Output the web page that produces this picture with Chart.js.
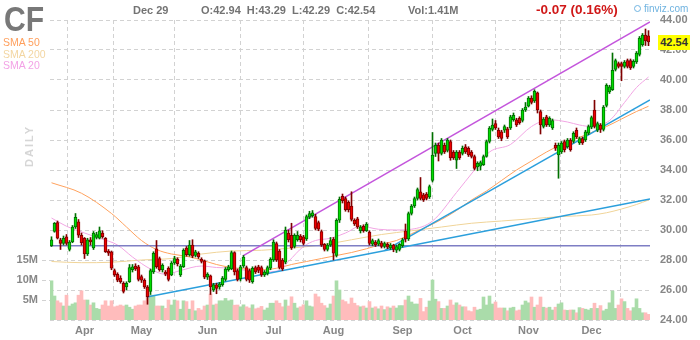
<!DOCTYPE html>
<html>
<head>
<meta charset="utf-8">
<script src="https://cdn.jsdelivr.net/npm/chart.js@4.4.1/dist/chart.umd.min.js"></script>
<style>
  body { margin: 0; background: #fff; }
  #wrap { position: relative; width: 700px; height: 340px; font-family: 'Liberation Sans', Arial, sans-serif; overflow: hidden; }
  #wrap canvas { position: absolute; left: 0; top: 0; }
  .t { position: absolute; white-space: pre; }
  .hdr { font-size: 11px; font-weight: bold; line-height: 12px; color: #737373; top: 4px; }
  .sma { font-size: 10.5px; line-height: 11px; left: 3px; }
</style>
</head>
<body>
<div id="wrap">
  <canvas id="chart" width="700" height="340"></canvas>
  <div class="t" style="left:4px; top:1px; font-size:35px; line-height:35px; font-weight:bold; color:#787878; transform:scaleX(0.86); transform-origin:left top;">CF</div>
  <div class="t sma" style="top:37px; color:#ff9f5c;">SMA 50</div>
  <div class="t sma" style="top:48.5px; color:#f3d6a2;">SMA 200</div>
  <div class="t sma" style="top:60px; color:#f3a2e6;">SMA 20</div>
  <div class="t" style="left:9px; top:141px; width:40px; text-align:center; font-size:11px; line-height:12px; font-weight:bold; letter-spacing:2px; color:#d6d6d6; transform:rotate(-90deg);">DAILY</div>
  <div class="t hdr" style="left:133px;">Dec 29</div>
  <div class="t hdr" style="left:201px;">O:42.94  H:43.29  L:42.29  C:42.54</div>
  <div class="t hdr" style="left:408px;">Vol:1.41M</div>
  <div class="t" style="left:536px; top:2.5px; font-size:13.5px; line-height:14px; font-weight:bold; color:#d01818;">-0.07 (0.16%)</div>
  <div class="t" style="left:634px; top:3px; font-size:10px; line-height:12px; color:#6fb3e0;"><span style="display:inline-block; width:5px; height:5px; border:1px solid #6fb3e0; border-radius:50%; margin-right:3px; vertical-align:0px;"></span>finviz.com</div>
  <div class="t" style="left:658px; top:35px; width:32px; height:15px; background:#ffff00; font-size:11px; line-height:15px; font-weight:bold; color:#333; text-align:center;">42.54</div>
</div>
<script>
// daily candles, 17 Mar .. 29 Dec (200 sessions)
const opens = [
  28.95, 29.90, 30.50, 29.35, 29.10, 29.55, 28.70, 29.20, 30.20, 30.55,
  29.65, 29.45, 28.40, 29.35, 28.80, 29.50, 29.45, 29.80, 29.45, 28.60,
  28.55, 27.30, 27.05, 26.80, 26.45, 26.20, 26.55, 27.35, 27.60, 27.55,
  26.90, 26.65, 26.20, 25.90, 27.20, 28.75, 28.10, 27.35, 27.20, 27.45,
  27.00, 27.80, 28.05, 27.00, 27.55, 28.80, 28.35, 29.00, 28.30, 28.45,
  28.05, 27.95, 26.85, 26.95, 26.00, 26.35, 26.20, 26.35, 26.70, 27.35,
  27.40, 28.50, 27.30, 26.75, 27.60, 27.50, 27.30, 26.55, 27.50, 27.55,
  27.50, 27.00, 27.10, 27.45, 28.00, 29.10, 28.60, 28.00, 27.85, 29.80,
  29.65, 28.90, 29.35, 29.60, 29.55, 29.40, 30.85, 30.95, 30.90, 30.50,
  29.90, 29.05, 28.70, 29.00, 29.40, 28.30, 30.65, 32.25, 32.10, 31.85,
  31.60, 30.65, 30.75, 29.95, 30.25, 29.95, 29.85, 29.05, 29.20, 29.05,
  29.15, 28.90, 29.05, 28.80, 29.00, 28.65, 28.70, 28.95, 29.95, 29.40,
  31.10, 31.60, 32.10, 32.55, 32.35, 32.40, 32.20, 33.30, 35.10, 35.65,
  35.10, 35.65, 35.30, 35.90, 35.20, 34.65, 35.20, 35.10, 35.55, 35.45,
  35.20, 34.90, 34.20, 34.25, 34.35, 34.90, 35.90, 36.70, 37.10, 36.65,
  36.55, 36.65, 36.75, 36.80, 37.35, 37.35, 37.45, 37.30, 38.00, 38.25,
  38.80, 38.60, 39.15, 37.90, 36.90, 37.55, 37.00, 36.80, 35.65, 35.00,
  35.20, 35.90, 35.55, 36.00, 35.90, 36.65, 35.80, 36.10, 36.00, 36.45,
  36.85, 38.00, 36.65, 37.00, 36.70, 38.30, 39.20, 39.35, 40.70, 41.10,
  41.10, 40.90, 41.30, 41.30, 40.90, 41.20, 41.70, 42.35, 43.00, 42.94
];
const highs = [
  29.55, 30.50, 30.60, 29.45, 29.60, 29.70, 29.30, 30.30, 31.10, 30.70,
  29.80, 29.50, 29.45, 29.50, 29.90, 29.85, 30.20, 29.95, 29.50, 28.70,
  28.60, 27.40, 27.15, 26.95, 26.55, 26.55, 27.70, 27.70, 27.75, 27.65,
  27.00, 26.75, 26.30, 27.40, 28.55, 29.30, 28.20, 27.75, 27.30, 27.55,
  27.90, 28.25, 28.15, 27.70, 28.75, 28.90, 29.30, 29.35, 28.65, 28.55,
  28.15, 28.00, 27.15, 27.00, 26.45, 26.45, 26.50, 26.90, 27.50, 27.65,
  28.60, 28.55, 27.40, 27.65, 28.30, 27.60, 27.40, 27.55, 27.60, 27.65,
  27.60, 27.30, 27.60, 28.15, 29.35, 29.20, 28.70, 28.10, 30.20, 30.00,
  30.45, 29.75, 29.90, 29.70, 29.65, 31.00, 31.25, 31.30, 31.05, 30.60,
  30.00, 29.10, 29.10, 29.50, 29.50, 30.75, 32.20, 32.40, 32.20, 31.95,
  32.55, 30.75, 30.85, 30.30, 30.35, 30.50, 29.95, 29.40, 29.30, 29.40,
  29.25, 29.20, 29.15, 29.10, 29.05, 29.00, 29.10, 29.45, 30.40, 31.20,
  31.70, 32.20, 32.80, 33.50, 32.45, 32.50, 33.00, 36.50, 35.80, 35.80,
  36.10, 35.80, 36.10, 36.00, 35.30, 35.30, 35.30, 35.60, 35.70, 35.55,
  35.30, 35.00, 34.55, 34.60, 35.00, 36.00, 36.90, 37.40, 37.30, 36.80,
  36.65, 37.00, 36.85, 37.65, 37.80, 37.45, 37.55, 38.10, 38.50, 38.90,
  38.95, 39.35, 39.20, 38.00, 37.50, 37.65, 37.55, 37.40, 35.80, 35.80,
  35.90, 36.00, 36.10, 36.10, 36.55, 36.80, 36.20, 36.20, 36.65, 37.00,
  37.60, 38.65, 37.20, 37.10, 38.30, 39.75, 39.65, 41.80, 41.40, 41.20,
  41.20, 41.30, 41.40, 41.40, 41.35, 41.90, 42.90, 43.10, 43.40, 43.29
];
const lows = [
  28.90, 29.85, 29.40, 28.70, 29.00, 29.00, 28.60, 29.15, 30.10, 29.50,
  29.00, 28.10, 28.30, 29.00, 28.70, 29.40, 29.40, 29.45, 28.50, 28.30,
  27.35, 26.90, 26.55, 26.45, 25.80, 26.00, 26.50, 27.20, 27.30, 26.60,
  26.50, 26.10, 25.05, 25.70, 27.10, 27.45, 27.25, 27.20, 26.95, 26.60,
  26.95, 27.70, 27.60, 26.90, 27.50, 28.25, 28.25, 28.15, 28.20, 28.10,
  27.80, 26.75, 26.70, 25.70, 25.90, 25.75, 26.05, 26.25, 26.60, 27.25,
  27.35, 27.00, 26.60, 26.60, 27.50, 26.60, 26.50, 26.45, 27.10, 27.15,
  26.90, 26.90, 27.00, 27.35, 27.90, 27.90, 27.40, 27.30, 27.75, 29.20,
  28.70, 28.80, 29.25, 29.20, 29.00, 29.30, 30.75, 30.85, 30.00, 29.95,
  28.90, 28.60, 28.60, 28.90, 28.00, 28.20, 30.50, 31.80, 31.25, 31.20,
  30.60, 30.30, 30.10, 29.80, 29.85, 29.90, 29.00, 28.95, 28.90, 28.95,
  28.80, 28.80, 28.75, 28.70, 28.55, 28.50, 28.60, 28.85, 29.20, 29.30,
  31.00, 31.50, 32.00, 32.00, 31.90, 32.00, 32.10, 33.20, 34.90, 34.60,
  35.00, 35.10, 35.20, 34.65, 34.70, 34.10, 34.70, 35.00, 35.10, 34.90,
  34.80, 34.00, 33.95, 34.00, 34.30, 34.85, 35.80, 36.60, 36.70, 36.10,
  35.95, 36.50, 36.10, 36.70, 37.25, 36.90, 37.05, 37.20, 37.90, 38.20,
  38.40, 38.50, 37.80, 36.40, 36.80, 36.90, 36.90, 36.70, 35.30, 33.45,
  35.10, 35.20, 35.45, 35.25, 35.80, 36.10, 35.70, 35.70, 35.90, 36.35,
  36.75, 36.80, 36.55, 36.50, 36.60, 38.20, 39.10, 39.30, 40.60, 40.80,
  39.95, 40.80, 40.80, 40.70, 40.80, 41.10, 41.60, 42.25, 42.30, 42.29
];
const closes = [
  29.35, 30.45, 29.45, 29.10, 29.45, 29.10, 29.20, 30.20, 30.85, 29.65,
  29.15, 28.40, 29.35, 29.20, 29.80, 29.70, 29.95, 29.55, 28.55, 28.45,
  27.45, 27.00, 26.65, 26.55, 25.90, 26.45, 27.50, 27.55, 27.40, 26.70,
  26.65, 26.20, 25.55, 27.30, 28.45, 27.55, 27.35, 27.65, 27.05, 26.70,
  27.80, 28.10, 27.75, 27.60, 28.65, 28.35, 29.00, 28.25, 28.55, 28.20,
  27.90, 26.85, 27.05, 26.20, 26.35, 26.10, 26.40, 26.80, 27.40, 27.55,
  28.50, 27.20, 26.70, 27.55, 28.20, 26.70, 26.65, 27.45, 27.20, 27.30,
  27.00, 27.20, 27.50, 28.05, 29.20, 28.00, 27.50, 27.40, 30.00, 29.35,
  28.80, 29.65, 29.65, 29.35, 29.10, 30.90, 31.10, 31.15, 30.10, 30.05,
  29.00, 28.70, 29.00, 29.30, 28.45, 30.65, 32.05, 31.95, 31.35, 31.35,
  30.70, 30.40, 30.20, 30.20, 29.95, 30.40, 29.10, 29.30, 29.00, 29.30,
  28.90, 29.10, 28.85, 29.00, 28.70, 28.90, 29.05, 29.35, 29.40, 31.10,
  31.60, 32.10, 32.70, 32.10, 32.00, 32.10, 32.90, 35.00, 35.65, 35.10,
  36.00, 35.20, 36.00, 34.80, 34.80, 35.20, 34.80, 35.45, 35.20, 35.00,
  34.90, 34.10, 34.45, 34.50, 34.90, 35.90, 36.80, 37.00, 36.80, 36.20,
  36.10, 36.90, 36.20, 37.55, 37.65, 37.00, 37.15, 38.00, 38.20, 38.80,
  38.50, 39.25, 38.00, 37.00, 37.40, 37.00, 37.45, 37.30, 35.45, 35.65,
  35.80, 35.35, 36.00, 35.35, 36.45, 36.20, 36.10, 35.80, 36.55, 36.90,
  37.50, 36.90, 37.10, 36.70, 38.20, 39.65, 39.55, 40.65, 41.30, 40.90,
  40.90, 41.20, 40.90, 40.80, 41.25, 41.80, 42.80, 43.00, 42.61, 42.54
];
// volume in millions
const volumes = [
  9.8, 6.0, 4.8, 4.3, 3.5, 6.2, 3.5, 4.0, 4.3, 6.2,
  7.3, 5.0, 5.0, 3.75, 4.3, 2.9, 2.7, 3.75, 4.8, 3.5,
  4.8, 3.3, 3.5, 3.75, 3.5, 3.75, 3.2, 2.7, 3.5, 3.75,
  3.75, 4.8, 8.3, 6.2, 6.2, 3.5, 3.5, 3.5, 2.9, 5.0,
  3.75, 5.0, 4.8, 2.7, 4.8, 4.6, 2.7, 4.8, 2.3, 2.9,
  2.5, 3.5, 3.75, 6.5, 3.75, 4.0, 4.8, 4.8, 5.4, 4.8,
  5.0, 3.7, 3.75, 3.3, 3.8, 3.3, 3.0, 3.8, 2.8, 3.0,
  3.4, 2.5, 3.0, 4.2, 4.2, 4.8, 4.2, 3.3, 5.0, 3.5,
  5.8, 4.2, 3.0, 3.3, 3.8, 4.8, 3.5, 3.3, 6.5, 5.8,
  4.2, 3.6, 3.0, 4.0, 6.0, 9.8, 7.5, 5.0, 4.6, 4.0,
  5.5, 4.2, 3.6, 3.3, 3.5, 3.0, 4.6, 3.0, 3.3, 2.8,
  3.5, 2.6, 3.3, 3.0, 3.5, 3.0, 3.6, 3.6, 5.0, 6.0,
  4.5, 4.0, 4.0, 5.4, 2.1, 3.2, 4.75, 10.0, 5.2, 4.6,
  2.9, 2.9, 3.5, 5.0, 3.75, 4.3, 3.75, 3.3, 3.3, 2.3,
  2.1, 3.2, 2.5, 2.7, 5.75, 3.75, 6.0, 4.0, 4.5, 3.0,
  3.0, 3.0, 2.3, 3.0, 3.2, 2.3, 2.5, 3.75, 4.75, 4.3,
  5.75, 3.2, 3.75, 5.75, 3.2, 3.0, 3.2, 2.5, 3.2, 4.0,
  4.3, 2.5, 2.4, 2.5, 2.5, 1.8, 3.1, 2.9, 2.7, 2.5,
  2.9, 4.2, 2.9, 3.6, 2.3, 2.7, 4.3, 7.25, 2.9, 3.75,
  5.3, 4.6, 2.9, 2.3, 3.1, 5.3, 2.9, 1.8, 1.8, 1.41
];

// moving averages (session index -> price)
const sma50Idx = [0, 10, 20, 25, 30, 35, 40, 45, 50, 55, 60, 65, 70, 75, 80, 85, 90, 95, 100, 105, 110, 115, 120, 125, 130, 135, 140, 145, 150, 155, 160, 165, 170, 175, 180, 185, 190, 195, 199];
const sma50Val = [33.15, 32.45, 31.1, 30.2, 29.3, 28.7, 28.4, 28.25, 28.0, 27.7, 27.5, 27.4, 27.35, 27.45, 27.7, 27.9, 28.1, 28.3, 28.5, 28.75, 29.05, 29.3, 29.75, 30.2, 30.7, 31.3, 32.0, 32.6, 33.3, 34.0, 34.6, 35.2, 35.7, 36.1, 36.5, 36.9, 37.4, 37.9, 38.25];
const sma200Idx = [0, 10, 20, 30, 40, 50, 60, 70, 80, 90, 100, 110, 120, 130, 140, 150, 160, 170, 180, 185, 190, 195, 199];
const sma200Val = [27.9, 27.82, 27.85, 28.0, 28.1, 28.4, 28.6, 28.65, 28.8, 29.0, 29.35, 29.7, 29.95, 30.2, 30.45, 30.6, 30.75, 30.9, 31.0, 31.15, 31.4, 31.7, 32.0];
const sma20Idx = [0, 5, 11, 16, 22, 27, 33, 38, 43, 50, 55, 60, 65, 70, 76, 79, 84, 88, 93, 98, 103, 109, 115, 120, 127, 135, 141, 146, 153, 160, 166, 172, 176, 180, 186, 191, 195, 199];
const sma20Val = [30.8, 30.25, 29.8, 29.45, 29.0, 28.2, 27.4, 27.05, 27.3, 27.6, 27.5, 27.45, 27.3, 27.2, 27.3, 27.9, 28.9, 29.3, 29.45, 29.8, 30.25, 30.05, 30.0, 30.05, 30.6, 32.5, 34.0, 35.2, 35.7, 36.9, 37.35, 37.2, 37.0, 36.9, 37.3, 38.5, 39.5, 40.2];

// trendlines: [start, end] in session index / price
const channelIdx = [63.8, 199.5];
const channelVal = [28.27, 43.87];
const supportIdx = [31.8, 199.5];
const supportVal = [25.53, 32.07];
const steepIdx = [111, 199.5];
const steepVal = [28.63, 38.67];
const flatIdx = [-0.5, 199.5];
const flatVal = [28.95, 28.95];

const monthStart = [11, 30, 52, 74, 94, 117, 137, 159, 180];
const monthNames = ['Apr', 'May', 'Jun', 'Jul', 'Aug', 'Sep', 'Oct', 'Nov', 'Dec'];
const volTicks = [5, 10, 15];

const GRID = '#d2d2d2';
const LABEL = '#878787';
const upFill = '#00dc00', upEdge = '#007000';
const dnFill = '#ee0000', dnEdge = '#800000';

Chart.defaults.font.family = "'Liberation Sans', Arial, sans-serif";

const up = closes.map((c, i) => c >= opens[i]);
const pts = (xs, ys) => xs.map((x, k) => ({ x: x, y: ys[k] }));

function lineSet(xs, ys, color, width, order, smooth) {
  return {
    type: 'line',
    data: pts(xs, ys),
    borderColor: color,
    borderWidth: width,
    pointRadius: 0,
    cubicInterpolationMode: smooth ? 'monotone' : 'default',
    yAxisID: 'y',
    order: order,
  };
}

new Chart(document.getElementById('chart'), {
  type: 'bar',
  data: {
    datasets: [
      {
        label: 'volume',
        data: volumes.map((v, i) => ({ x: i, y: v * 1e6 })),
        backgroundColor: up.map((u) => (u ? '#aadcaa' : '#ffbcbc')),
        barThickness: 3,
        grouped: false,
        yAxisID: 'yVol',
        order: 20,
      },
      lineSet(sma200Idx, sma200Val, '#f0d498', 1, 12, true),
      lineSet(sma50Idx, sma50Val, '#ffa25e', 1, 11, true),
      lineSet(sma20Idx, sma20Val, '#f2a6e4', 1, 10, true),
      lineSet(flatIdx, flatVal, '#7e7ec4', 1.3, 6, false),
      lineSet(supportIdx, supportVal, '#2b9fdc', 1.5, 5, false),
      lineSet(steepIdx, steepVal, '#2b9fdc', 1.5, 5, false),
      lineSet(channelIdx, channelVal, '#c455dc', 1.5, 5, false),
      {
        label: 'wick',
        data: closes.map((c, i) => ({ x: i, y: [lows[i], highs[i]] })),
        backgroundColor: up.map((u) => (u ? upEdge : dnEdge)),
        barThickness: 1,
        grouped: false,
        yAxisID: 'y',
        order: 2,
      },
      {
        label: 'body',
        data: closes.map((c, i) => ({ x: i, y: [opens[i], c] })),
        backgroundColor: up.map((u) => (u ? upFill : dnFill)),
        borderColor: up.map((u) => (u ? upEdge : dnEdge)),
        borderWidth: 1,
        borderSkipped: false,
        barThickness: 3,
        grouped: false,
        yAxisID: 'y',
        order: 1,
      },
    ],
  },
  options: {
    responsive: false,
    devicePixelRatio: 1,
    animation: false,
    layout: { padding: { top: 20, left: 0, right: 0, bottom: 0 } },
    plugins: { legend: { display: false }, tooltip: { enabled: false } },
    scales: {
      x: {
        type: 'linear',
        min: -0.5,
        max: 199.5,
        offset: false,
        afterBuildTicks: (s) => {
          s.ticks = [-0.5, ...monthStart, 199.5].map((v) => ({ value: v }));
        },
        afterFit: (s) => {
          s.height = 20;
        },
        ticks: {
          autoSkip: false,
          maxRotation: 0,
          padding: 4,
          color: LABEL,
          font: { size: 11, weight: 'bold' },
          callback: (v) => {
            const k = monthStart.indexOf(v);
            return k >= 0 ? monthNames[k] : '';
          },
        },
        grid: { color: GRID, drawTicks: false },
        border: { display: false, dash: [4, 3] },
      },
      y: {
        position: 'right',
        min: 24,
        max: 44,
        afterFit: (s) => {
          s.width = 50;
        },
        ticks: {
          stepSize: 2,
          padding: 10,
          color: LABEL,
          font: { size: 11, weight: 'bold' },
          callback: (v) => v.toFixed(2),
        },
        grid: { color: GRID, drawTicks: false },
        border: { display: false, dash: [4, 3] },
      },
      yVol: {
        position: 'left',
        min: 0,
        max: 75e6,
        afterBuildTicks: (s) => {
          s.ticks = volTicks.map((v) => ({ value: v * 1e6 }));
        },
        afterFit: (s) => {
          s.width = 50;
        },
        ticks: {
          padding: 4,
          color: LABEL,
          font: { size: 11, weight: 'bold' },
          callback: (v) => v / 1e6 + 'M',
        },
        grid: {
          drawOnChartArea: false,
          drawTicks: true,
          tickLength: 8,
          tickColor: GRID,
          tickBorderDash: [4, 3],
        },
        border: { display: false },
      },
    },
  },
});
</script>
</body>
</html>
